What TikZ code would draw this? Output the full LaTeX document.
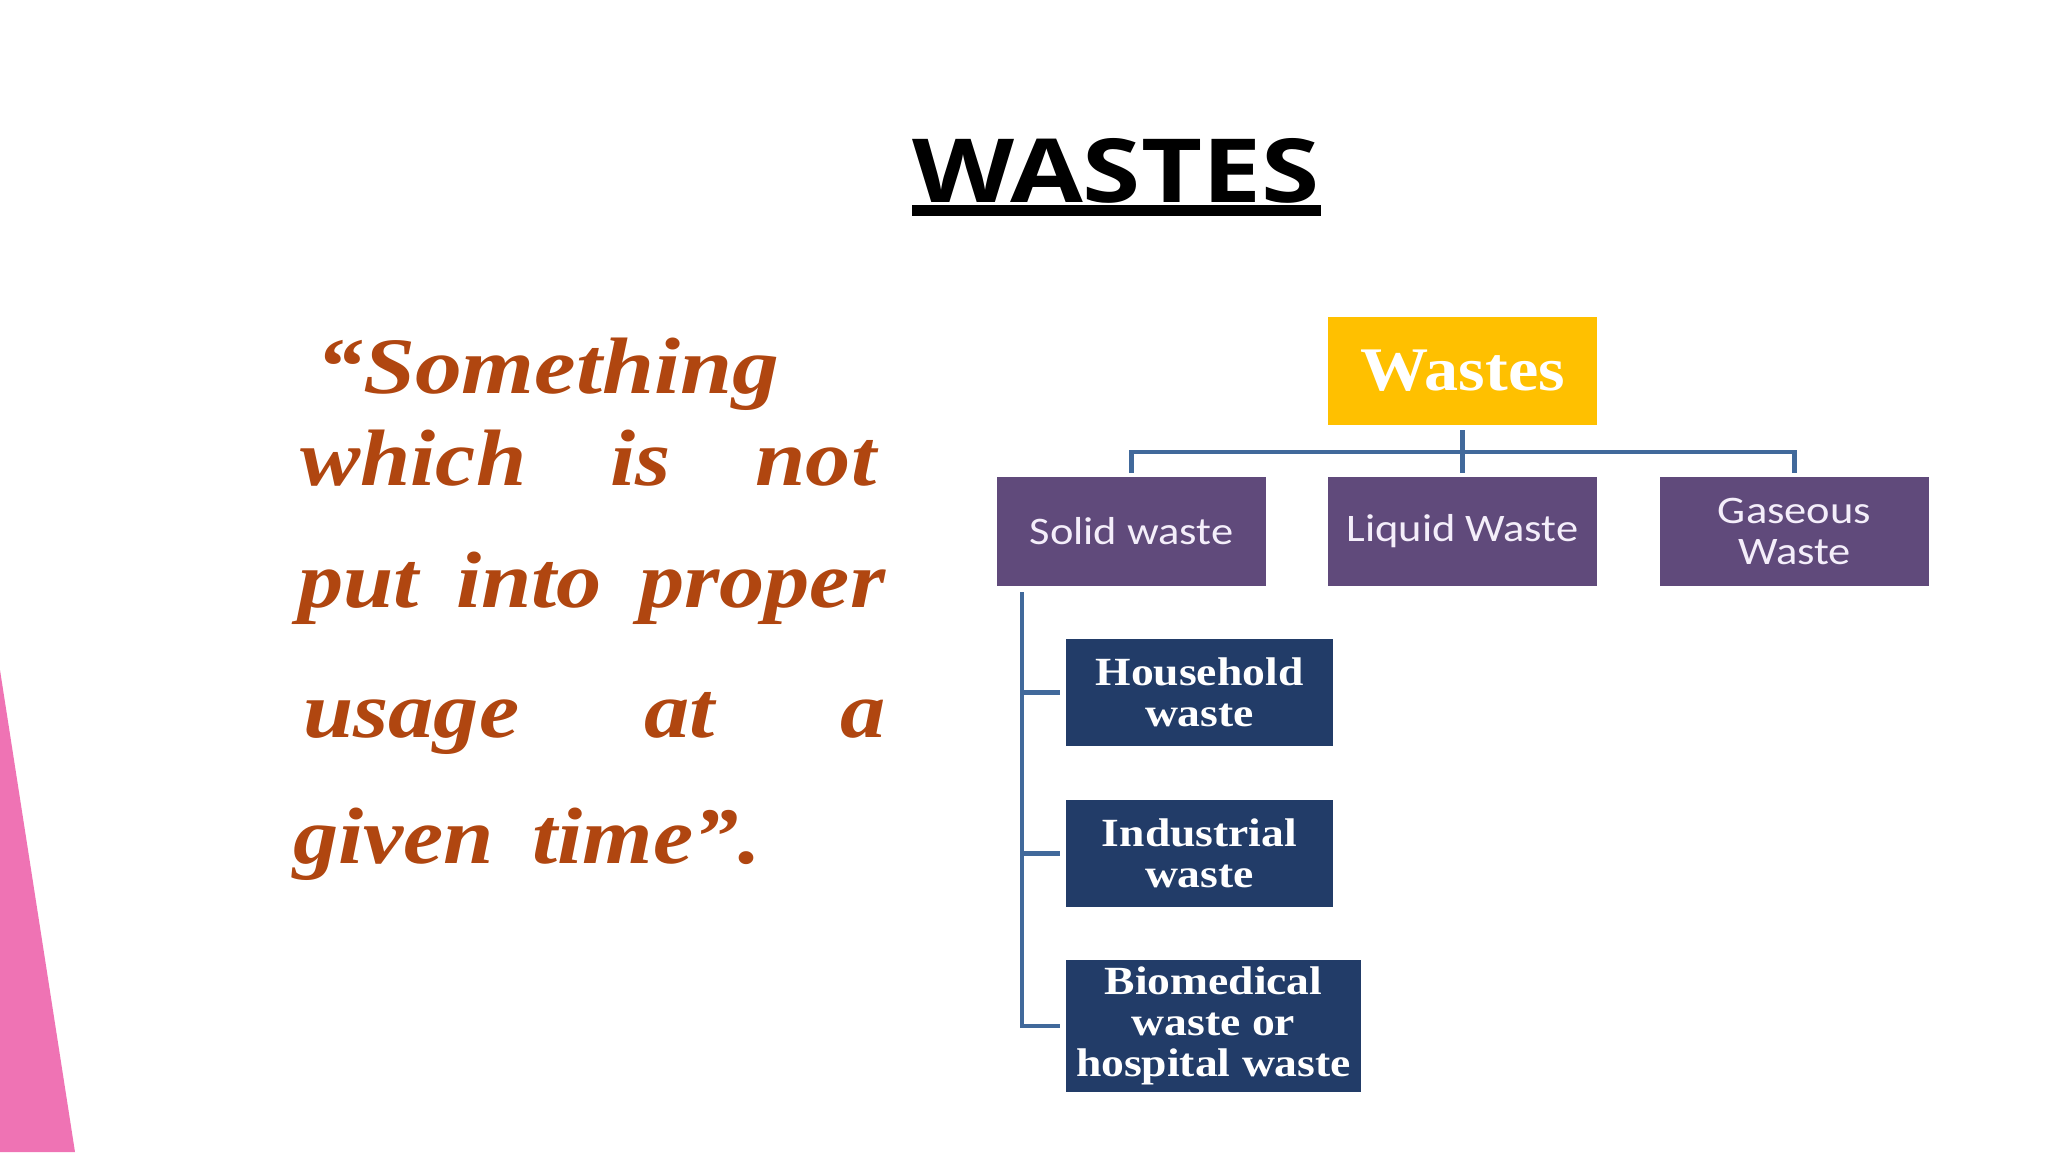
\documentclass[tikz,border=0pt]{standalone}
\usepackage{fontspec}
\usepackage{graphicx}
\setmainfont{Liberation Serif}
\newfontfamily\calfont{Carlito}
\newfontfamily\headfont{Open Sans}
\definecolor{wyellow}{RGB}{255,192,0}
\definecolor{wpurple}{RGB}{96,74,123}
\definecolor{wblue}{RGB}{34,60,104}
\definecolor{lineblue}{RGB}{65,105,155}
\definecolor{quotecol}{RGB}{176,70,16}
\definecolor{pinkside}{RGB}{239,115,180}
\definecolor{lavender}{RGB}{244,238,250}
\newcommand\sxa[1]{\scalebox{1.14}[1]{#1}}
\newcommand\qs[1]{\scalebox{1.13}[1]{#1}}
\begin{document}
\begin{tikzpicture}[x=1pt,y=-1pt,
  yellowbox/.style={rectangle, inner sep=0pt, fill=wyellow, minimum width=269pt, minimum height=108pt, text=white, font=\bfseries\fontsize{62}{62}\selectfont},
  purplebox/.style={rectangle, inner sep=0pt, fill=wpurple, minimum width=269pt, minimum height=109pt, text=lavender, align=center, font=\calfont\fontsize{39}{41}\selectfont},
  bluebox/.style={rectangle, inner sep=0pt, fill=wblue, minimum width=267pt, minimum height=107pt, text=white, align=center, font=\bfseries\fontsize{40}{41}\selectfont},
  conn/.style={draw=lineblue, line width=4.5pt},
  quoteline/.style={anchor=base west, inner sep=0pt, text=quotecol, font=\bfseries\itshape\fontsize{80}{80}\selectfont}
]
\useasboundingbox (0,0) rectangle (2048,1152);
\fill[white] (0,0) rectangle (2048,1152);

% pink side shape
\fill[pinkside] (0,670) -- (75,1152) -- (0,1152) -- cycle;

% title
\node[anchor=base west, inner sep=0pt] (title) at (912,202) {\resizebox{407pt}{64pt}{\headfont\bfseries WASTES}};
\fill[black] (912,205) rectangle (1321,216);

% quote
\node[quoteline] (q1) at (316,393) {\scalebox{1.17}[1]{“Something}};
\node[quoteline] (q2) at (300,485) {\hbox to 576pt{\qs{which}\hfill\qs{is}\hfill\qs{not}}};
\node[quoteline] (q3) at (298,607) {\hbox to 587pt{\qs{put}\hfill\qs{into}\hfill\qs{proper}}};
\node[quoteline] (q4) at (303,737) {\hbox to 582pt{\qs{usage}\hfill\qs{at}\hfill\qs{a}}};
\node[quoteline] (q5) at (293,863) {\hbox to 468pt{\qs{given}\hfill\qs{time”.}}};

% hierarchy
\node[yellowbox] (wastes) at (1462.5,371) {\scalebox{1.1}[1]{Wastes}};
\node[purplebox] (solid) at (1131.5,531.5) {\sxa{Solid waste}};
\node[purplebox] (liquid) at (1462.5,531.5) {\sxa{Liquid Waste}};
\node[purplebox] (gas) at (1794.5,531.5) {\sxa{Gaseous}\\\sxa{Waste}};
\node[bluebox] (house) at (1199.5,692.5) {\sxa{Household}\\\sxa{waste}};
\node[bluebox] (indus) at (1199.5,853.5) {\sxa{Industrial}\\\sxa{waste}};
\node[bluebox, minimum width=295pt, minimum height=132pt] (bio) at (1213.5,1026) {\sxa{Biomedical}\\\sxa{waste or}\\\sxa{hospital waste}};

\coordinate (bus) at (1462.5,452);
\draw[conn] ([yshift=-5pt]wastes.south) -- ([yshift=4pt]liquid.north);
\draw[conn] ([yshift=4pt]solid.north) |- (bus) -| ([yshift=4pt]gas.north);

\draw[conn] ([xshift=25pt,yshift=-6pt]solid.south west) |- ([xshift=-6pt]bio.west);
\draw[conn] ([xshift=25pt,yshift=-6pt]solid.south west) |- ([xshift=-6pt]house.west);
\draw[conn] ([xshift=25pt,yshift=-6pt]solid.south west) |- ([xshift=-6pt]indus.west);
\end{tikzpicture}
\end{document}
